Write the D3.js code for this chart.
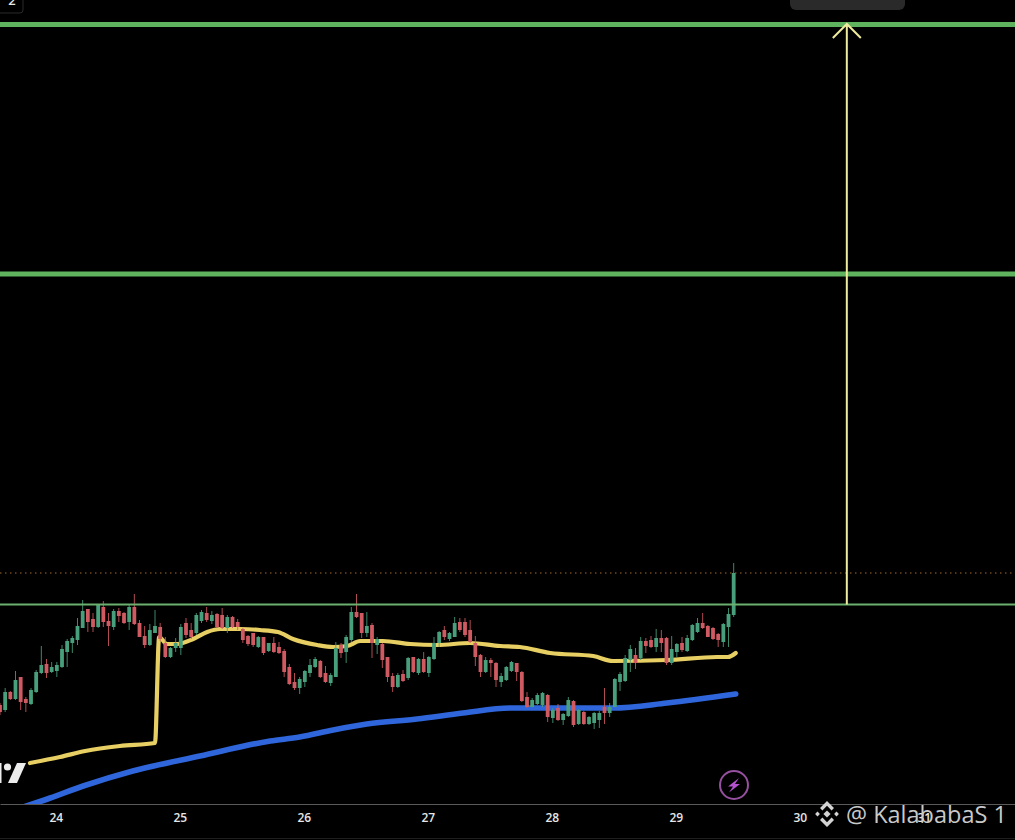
<!DOCTYPE html>
<html>
<head>
<meta charset="utf-8">
<script src="https://cdnjs.cloudflare.com/ajax/libs/d3/7.9.0/d3.min.js"></script>
<style>
html,body{margin:0;padding:0;background:#000;overflow:hidden}
svg{display:block}
</style>
</head>
<body>
<svg id="chart" width="1015" height="840"></svg>
<script>
// Hourly candles, prices in chart units
const opens=[99,94,112,105,127,105,100,112,131,140,132,133,137,152,161,164,176,195,185,177,197,183,177,193,191,182,197,181,168,159,171,177,161,147,156,156,181,174,171,183,191,183,190,189,176,187,182,175,168,171,157,167,153,161,157,153,137,122,116,122,131,137,143,131,121,127,159,152,164,192,191,171,179,159,160,147,128,117,130,126,147,131,145,131,145,161,174,165,167,182,182,174,161,149,132,144,141,122,124,133,141,132,107,97,100,99,109,86,96,84,88,103,80,92,80,81,84,97,91,97,122,123,144,149,146,163,164,157,166,166,141,152,161,153,164,172,181,178,176,170,162,177,189];
const closes=[92,112,105,124,102,101,114,132,139,131,137,139,155,163,166,178,193,182,177,199,182,178,193,188,181,197,180,167,159,174,178,165,147,156,161,177,169,167,189,192,184,189,177,176,187,177,177,164,160,159,167,151,161,152,151,132,120,116,125,133,139,145,127,122,129,156,151,167,192,187,171,178,161,165,144,127,117,129,123,146,132,145,132,147,161,172,167,171,181,174,169,162,147,132,144,141,124,128,137,142,132,103,97,104,109,111,87,94,84,90,104,79,94,80,87,91,91,91,97,125,130,146,155,141,163,158,157,166,161,141,155,160,154,166,179,181,176,167,165,164,180,190,231];
const highs=[101,116,113,133,127,107,116,134,158,145,142,142,159,165,168,186,204,195,191,200,203,191,195,196,192,200,210,184,178,180,194,181,167,157,166,180,186,181,191,194,197,193,191,196,189,188,185,176,169,171,168,167,161,167,162,155,140,131,127,134,145,147,144,138,131,162,161,169,197,210,191,192,181,167,161,147,131,131,134,147,147,146,152,148,167,173,178,172,187,186,186,184,168,150,147,146,142,131,138,143,141,133,112,106,111,112,110,96,100,91,107,104,95,93,88,92,93,116,101,126,132,149,159,156,167,166,168,175,174,167,168,161,167,169,180,186,191,179,177,171,181,196,241];
const lows=[89,92,104,104,94,92,99,111,130,126,131,127,136,137,151,159,176,172,172,176,177,158,174,182,180,174,179,167,156,158,171,163,146,146,152,149,166,165,169,181,182,180,176,175,171,176,174,161,158,157,156,149,152,151,150,127,119,114,110,117,127,136,126,121,118,127,146,141,162,186,166,167,146,150,136,122,112,116,122,124,131,129,131,127,144,157,164,163,167,172,167,161,138,127,131,127,117,117,123,132,123,102,96,97,99,97,82,81,83,79,87,77,79,79,79,75,76,80,87,97,113,122,132,135,144,151,156,152,152,139,139,147,152,152,163,171,175,167,164,157,157,157,187];

const yellowIndex=[5.8,11.6,16.5,23.2,30,30.8,32.3,34.3,37.4,40.1,42.6,46.5,50.3,53.8,56.7,61.4,64.5,67.2,69.7,74.1,79.4,84.6,91,96.8,100.6,106.5,114.8,118.6,129.1,138.8,140.9,142.4];
const yellowValues=[41,47,53,58,61,167,160,160,165,172,175,175,174,172,165,159,157,158,163,163,160,159,161,158,157,151,148,143,144,147,147,151];
const blueIndex=[4,9.7,16.1,25.7,38.7,52.3,58,64.5,71,80.7,89.6,98.7,109.7,118.6,129.1,142.4];
const blueValues=[-4,6,18,33,48,63,67,74,80,85,91,96,96,96,101,110];

const levelValues=[779.5,530,199.5];
const levelWidths=[5,5,2];
const lastPrice=231;
const arrowIndex=163.9, arrowFrom=199.5, arrowTo=780;

const dayLabels=["24","25","26","27","28","29","30","31"];
const dayIndex=[10.8,34.8,58.8,82.8,106.8,130.8,154.8,178.8];

const W=1015,H=840,AXIS_Y=804;
const svg=d3.select("#chart");
const x=d3.scaleLinear().domain([0,196.45]).range([0,W]);
const y=d3.scaleLinear().domain([0,804]).range([AXIS_Y,0]);
const GREEN="#489f7c",RED="#cf5a62";

svg.append("rect").attr("width",W).attr("height",H).attr("fill","#000");
svg.append("defs").append("clipPath").attr("id","pane").append("rect").attr("width",W).attr("height",AXIS_Y);
const pane=svg.append("g").attr("clip-path","url(#pane)").style("filter","blur(0.5px)");

// top chrome
svg.append("rect").attr("x",790).attr("y",-12).attr("width",115).attr("height",22).attr("rx",6).attr("fill","#2a2a2b");
svg.append("rect").attr("x",-6).attr("y",-10).attr("width",29).attr("height",23).attr("rx",3).attr("fill","#000").attr("stroke","#2b2b2b");
svg.append("text").attr("x",12).attr("y",5).attr("text-anchor","middle").attr("fill","#e8e8e8")
  .attr("font-family","Open Sans").attr("font-size",13).attr("font-weight",600).text("2");

// dotted last price line
pane.append("line").attr("x1",0).attr("x2",W).attr("y1",y(lastPrice)).attr("y2",y(lastPrice))
  .attr("stroke","#a06a30").attr("stroke-width",1).attr("stroke-dasharray","1.5 3.5");

// moving averages
const smooth=d3.line().x(d=>x(d[0])).y(d=>y(d[1])).curve(d3.curveMonotoneX);
pane.append("path").attr("d",smooth(d3.zip(yellowIndex,yellowValues)))
  .attr("fill","none").attr("stroke","#e8cf63").attr("stroke-width",4.2).attr("stroke-linejoin","round").attr("stroke-linecap","round");
pane.append("path").attr("d",smooth(d3.zip(blueIndex,blueValues)))
  .attr("fill","none").attr("stroke","#2f66dc").attr("stroke-width",5.6).attr("stroke-linecap","round");

// candles
const candles=d3.range(opens.length).map(i=>({i,o:opens[i],c:closes[i],h:highs[i],l:lows[i]}));
const g=pane.selectAll("g.candle").data(candles).join("g").attr("class","candle");
g.append("line").attr("x1",d=>x(d.i)).attr("x2",d=>x(d.i)).attr("y1",d=>y(d.h)).attr("y2",d=>y(d.l))
  .attr("stroke",d=>d.c>=d.o?GREEN:RED).attr("stroke-width",1).attr("stroke-opacity",.85);
g.append("rect").attr("x",d=>x(d.i)-1.9).attr("width",3.8)
  .attr("y",d=>y(Math.max(d.o,d.c))).attr("height",d=>Math.max(1,Math.abs(y(d.o)-y(d.c))))
  .attr("fill",d=>d.c>=d.o?GREEN:RED);

// horizontal levels
pane.selectAll("line.level").data(levelValues).join("line").attr("class","level")
  .attr("x1",0).attr("x2",W).attr("y1",d=>y(d)).attr("y2",d=>y(d))
  .attr("stroke",(d,i)=>i<2?"#5fb25e":"#6bb06f").attr("stroke-width",(d,i)=>levelWidths[i]);

// target arrow
const ax=x(arrowIndex),ay=y(arrowTo);
pane.append("line").attr("x1",ax).attr("x2",ax).attr("y1",y(arrowFrom)).attr("y2",ay)
  .attr("stroke","#eeeb9c").attr("stroke-width",2);
pane.append("path").attr("d",`M${ax-14},${ay+14}L${ax},${ay}L${ax+14},${ay+14}`)
  .attr("fill","none").attr("stroke","#eeeb9c").attr("stroke-width",2);

// TradingView mark
const logo=svg.append("g").attr("fill","#ececec");
logo.append("rect").attr("x",0).attr("y",763).attr("width",1.5).attr("height",20);
logo.append("circle").attr("cx",7.5).attr("cy",767).attr("r",3.6);
logo.append("path").attr("d","M17,763H26L17,783H8Z");

// lightning badge
svg.append("circle").attr("cx",734).attr("cy",785).attr("r",14).attr("fill","#000").attr("stroke","#95509f").attr("stroke-width",2);
svg.append("path").attr("d","M739,778L728,786.5H733L729,792.5L740,784H735Z").attr("fill","#b452cf");

// time axis
const axis=d3.axisBottom(x).tickValues(dayIndex).tickSize(0).tickPadding(9)
  .tickFormat((d,i)=>dayLabels[i]);
const axG=svg.append("g").attr("transform",`translate(0,${AXIS_Y})`).call(axis);
axG.select(".domain").attr("stroke","#5a5a5a").attr("stroke-width",1);
axG.selectAll("text").attr("fill","#e6e6e6").attr("font-family","Open Sans").attr("font-size",12).attr("font-weight",600).attr("dy","0.71em");
svg.append("line").attr("x1",0).attr("x2",W).attr("y1",838.5).attr("y2",838.5).attr("stroke","#1e1e1e");

// watermark
const wm=svg.append("g").attr("fill","#d4d4d4");
const cx=827,cy=814;
wm.append("path").attr("d",`M${cx},${cy-3.6}L${cx+3.6},${cy}L${cx},${cy+3.6}L${cx-3.6},${cy}Z`);
wm.append("path").attr("d",`M${cx-9.5-2.4},${cy}L${cx-9.5},${cy-2.4}L${cx-9.5+2.4},${cy}L${cx-9.5},${cy+2.4}Z`);
wm.append("path").attr("d",`M${cx+9.5-2.4},${cy}L${cx+9.5},${cy-2.4}L${cx+9.5+2.4},${cy}L${cx+9.5},${cy+2.4}Z`);
wm.append("path").attr("d",`M${cx},${cy-13}L${cx+7},${cy-6}L${cx+4.6},${cy-3.6}L${cx},${cy-8.2}L${cx-4.6},${cy-3.6}L${cx-7},${cy-6}Z`);
wm.append("path").attr("d",`M${cx},${cy+13}L${cx+7},${cy+6}L${cx+4.6},${cy+3.6}L${cx},${cy+8.2}L${cx-4.6},${cy+3.6}L${cx-7},${cy+6}Z`);
wm.append("text").attr("x",846).attr("y",823).attr("font-family","Open Sans").attr("font-size",23.5).attr("fill","#c9c9c9").text("@ KalababaS 1");
</script>
</body>
</html>
